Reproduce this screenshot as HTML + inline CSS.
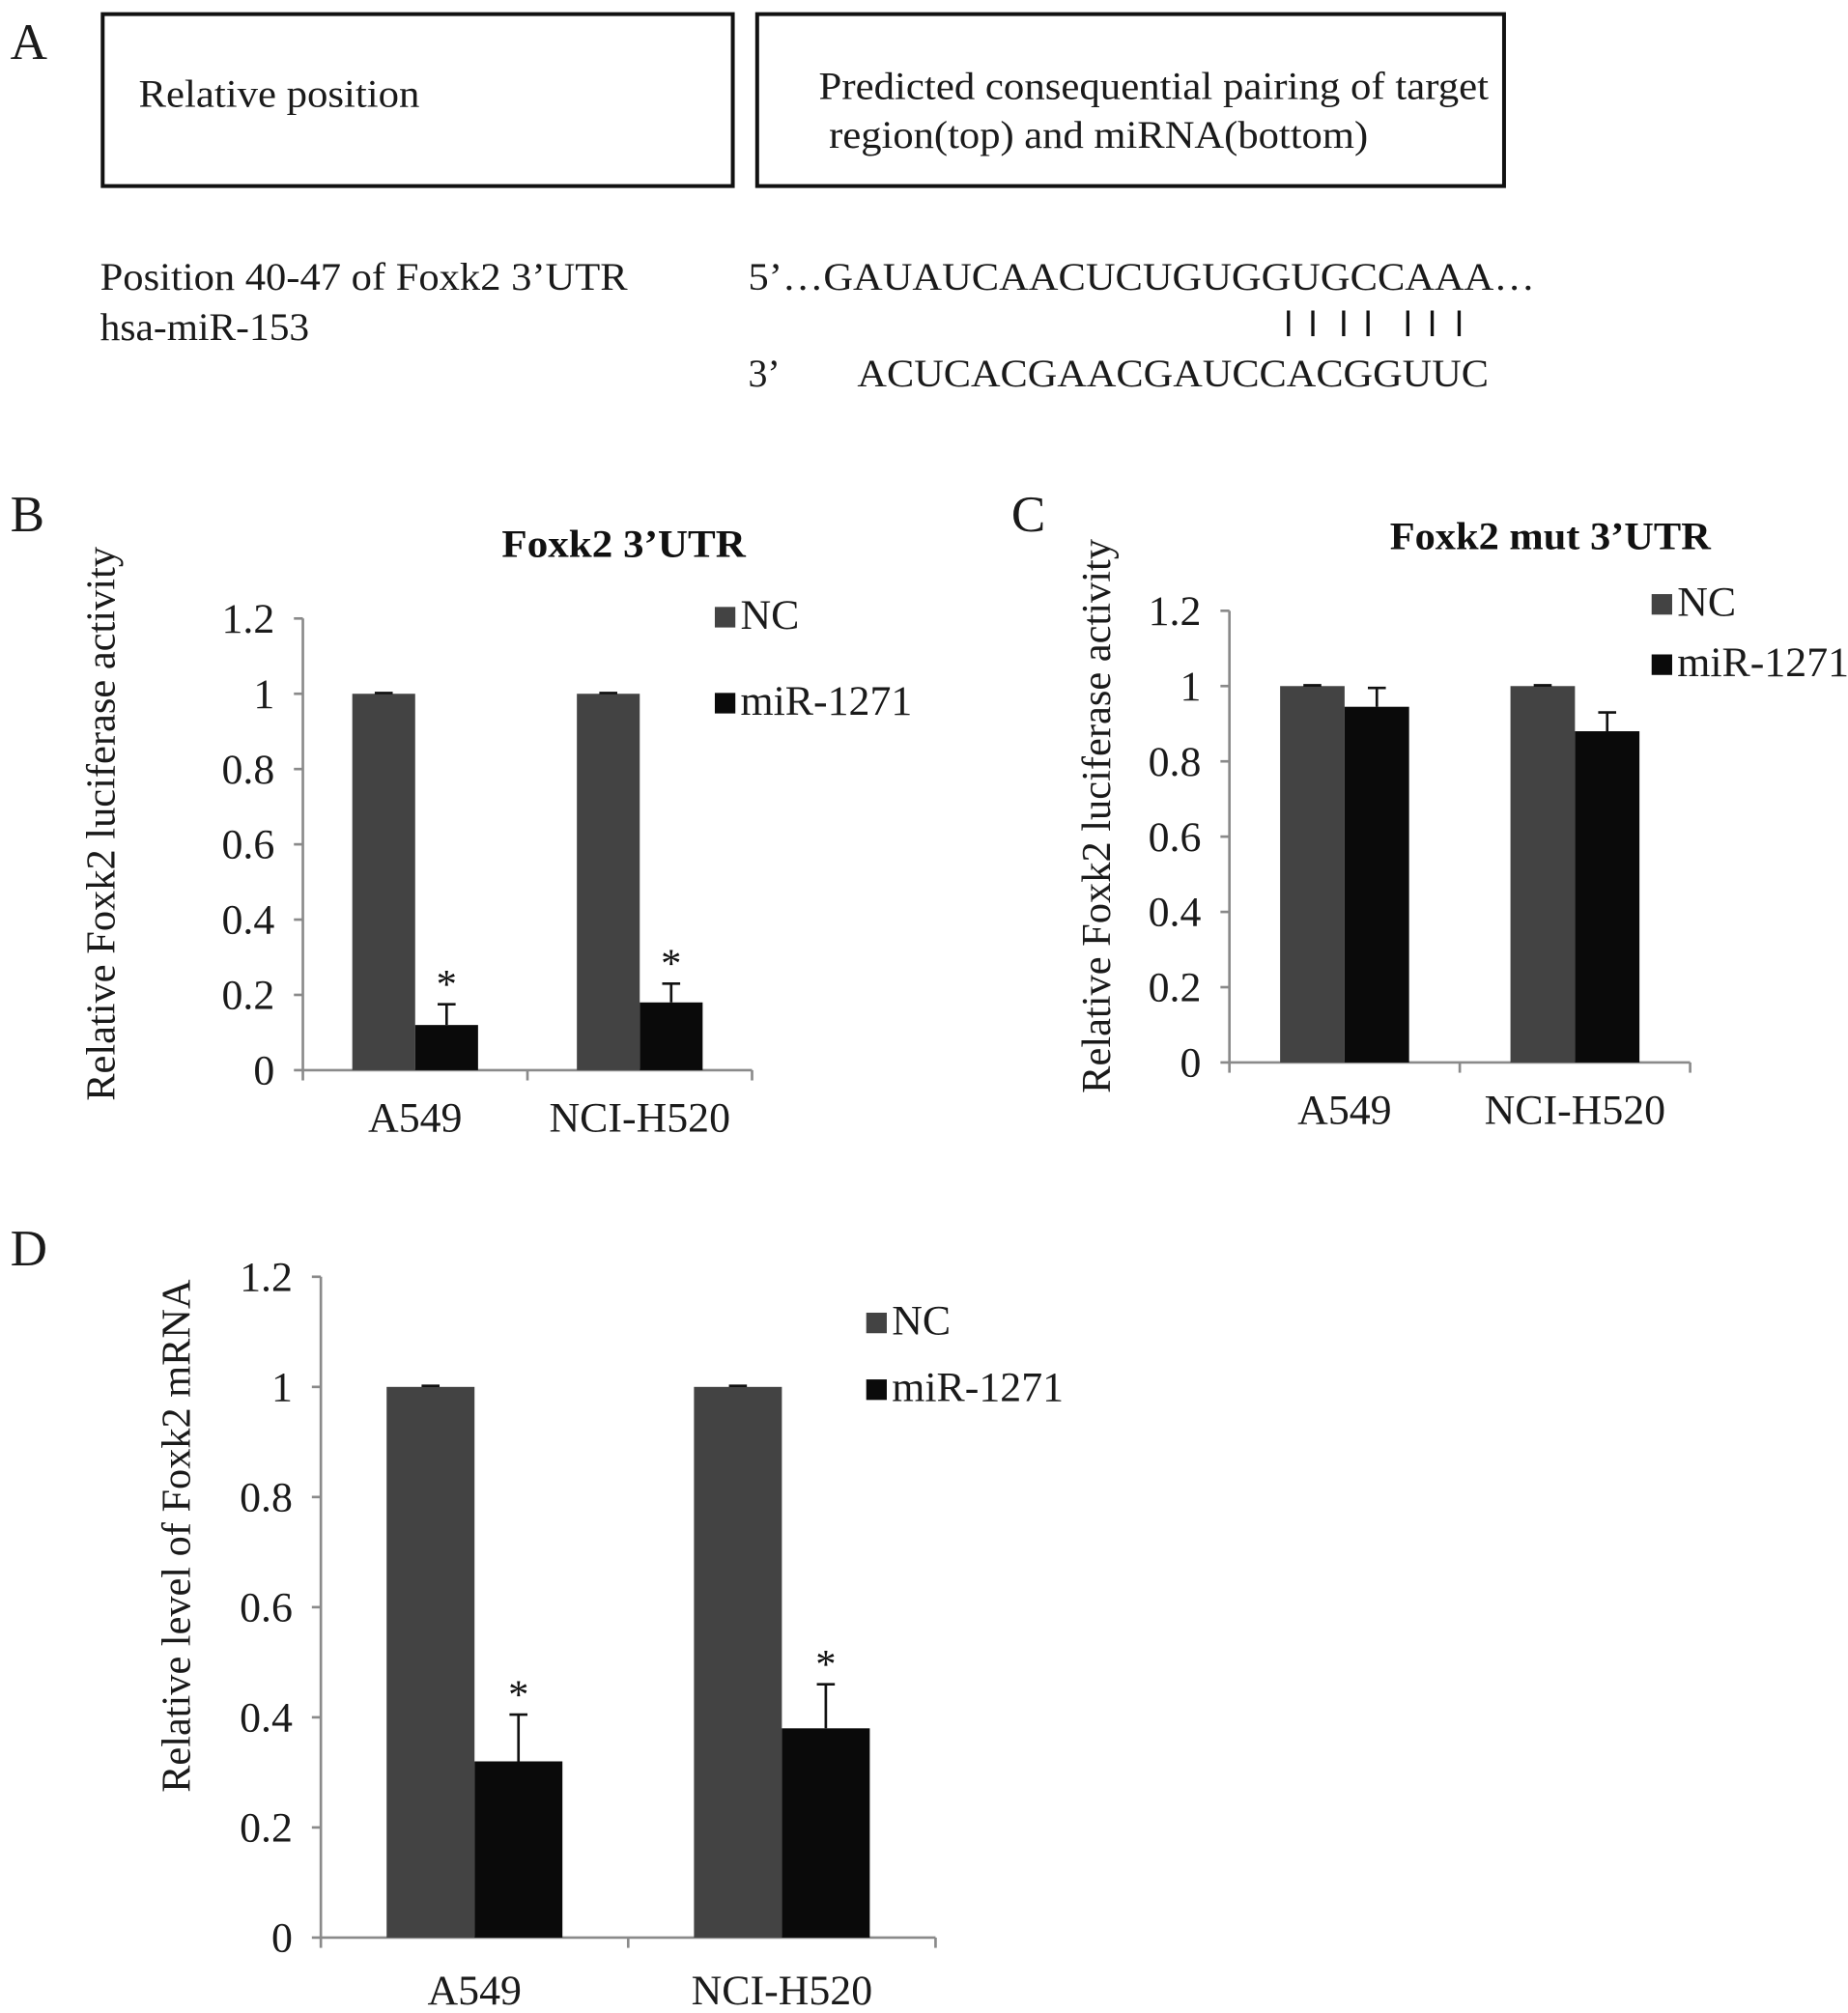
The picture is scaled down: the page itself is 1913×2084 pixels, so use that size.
<!DOCTYPE html>
<html><head><meta charset="utf-8"><style>
html,body{margin:0;padding:0;background:#fff}
svg, svg text{font-family:"Liberation Serif","Times New Roman",serif}
</style></head><body>
<svg id="fig" width="1913" height="2079" viewBox="0 0 1440 1565" xmlns="http://www.w3.org/2000/svg">
<g fill="#1a1a1a">
<text x="8" y="46" font-size="40">A</text>
<rect x="80" y="11" width="491" height="134" fill="none" stroke="#111" stroke-width="3"/>
<rect x="590" y="11" width="582" height="134" fill="none" stroke="#111" stroke-width="3"/>
<text x="108" y="83" font-size="30" textLength="219" lengthAdjust="spacingAndGlyphs">Relative position</text>
<text x="638" y="77" font-size="30" textLength="522" lengthAdjust="spacingAndGlyphs">Predicted consequential pairing of target</text>
<text x="646" y="115" font-size="30" textLength="420" lengthAdjust="spacingAndGlyphs">region(top) and miRNA(bottom)</text>
<text x="78" y="226" font-size="30" textLength="411" lengthAdjust="spacingAndGlyphs">Position 40-47 of Foxk2 3’UTR</text>
<text x="78" y="265" font-size="30" textLength="163" lengthAdjust="spacingAndGlyphs">hsa-miR-153</text>
<text x="583" y="226" font-size="30" textLength="613" lengthAdjust="spacingAndGlyphs">5’…GAUAUCAACUCUGUGGUGCCAAA…</text>
<g stroke="#111" stroke-width="2.5">
<line x1="1004" y1="242" x2="1004" y2="262"/><line x1="1023" y1="242" x2="1023" y2="262"/>
<line x1="1047" y1="242" x2="1047" y2="262"/><line x1="1066" y1="242" x2="1066" y2="262"/>
<line x1="1097" y1="242" x2="1097" y2="262"/><line x1="1116" y1="242" x2="1116" y2="262"/>
<line x1="1137" y1="242" x2="1137" y2="262"/></g>
<text x="583" y="301" font-size="30">3’</text>
<text x="668" y="301" font-size="30" textLength="492" lengthAdjust="spacingAndGlyphs">ACUCACGAACGAUCCACGGUUC</text>
</g>
<g id="charts"></g>
</svg>
<script>
const categories = ["A549", "NCI-H520"];
const seriesNames = ["NC", "miR-1271"];
const tickLabels = ["0", "0.2", "0.4", "0.6", "0.8", "1", "1.2"];
const tickValues = [0, 0.2, 0.4, 0.6, 0.8, 1, 1.2];
const bNC = [1, 1];
const bMiR = [0.12, 0.18];
const bNCErr = [0.002, 0.002];
const bMiRErr = [0.055, 0.05];
const bSig = [true, true];
const cNC = [1, 1];
const cMiR = [0.945, 0.88];
const cNCErr = [0.002, 0.002];
const cMiRErr = [0.05, 0.05];
const cSig = [false, false];
const dNC = [1, 1];
const dMiR = [0.32, 0.38];
const dNCErr = [0.002, 0.002];
const dMiRErr = [0.085, 0.08];
const dSig = [true, true];

const NS = "http://www.w3.org/2000/svg";
const root = document.getElementById("charts");
const colors = ["#434343", "#0a0a0a"];
function mk(tag, attrs, parent, txt) {
  const e = document.createElementNS(NS, tag);
  for (const k in attrs) e.setAttribute(k, attrs[k]);
  if (txt !== undefined) e.textContent = txt;
  parent.appendChild(e);
  return e;
}
function chart(cfg, nc, mir, ncErr, mirErr, sig) {
  const g = mk("g", {}, root);
  
  
  const y = v => cfg.y0 - (v / 1.2) * (cfg.y0 - cfg.y12);
  const groupW = (cfg.x1 - cfg.x0) / categories.length;
  const lab = mk("text", {x: cfg.labelX, y: cfg.labelY, "font-size": 40, fill: "#1a1a1a"}, g, cfg.letter);
  
  
  if (cfg.title) {
    const t = mk("text", {x: cfg.titleX, y: cfg.titleY, "font-size": 30, "font-weight": "bold", "text-anchor": "middle", fill: "#111", textLength: cfg.titleW, lengthAdjust: "spacingAndGlyphs"}, g, cfg.title);
    
    
  }
  const yt = mk("text", {x: 0, y: 0, "font-size": 32, "text-anchor": "middle", fill: "#1a1a1a", textLength: cfg.ytW, lengthAdjust: "spacingAndGlyphs", transform: `translate(${cfg.ytX},${cfg.ytY}) rotate(-90)`}, g, cfg.yTitle);
  
  
  const ax = mk("path", {d: `M${cfg.x0},${y(1.2)}V${y(0)}H${cfg.x1}`, stroke: "#8a8a8a", "stroke-width": 2, fill: "none"}, g);
  
  
  tickValues.forEach((v, i) => {
    const tk = mk("line", {x1: cfg.x0 - 7, x2: cfg.x0, y1: y(v), y2: y(v), stroke: "#8a8a8a", "stroke-width": 2}, g);
    
    
    const tl = mk("text", {x: cfg.x0 - 22, y: y(v) + 11, "font-size": 33, "text-anchor": "end", fill: "#1a1a1a"}, g, tickLabels[i]);
    
    
  });
  for (let i = 0; i <= categories.length; i++) {
    const xx = cfg.x0 + i * groupW;
    const tk = mk("line", {x1: xx, x2: xx, y1: y(0), y2: y(0) + 8, stroke: "#8a8a8a", "stroke-width": 2}, g);
    
    
  }
  categories.forEach((c, i) => {
    const cx = cfg.x0 + (i + 0.5) * groupW;
    const bw = groupW * cfg.barFrac;
    [[nc, ncErr], [mir, mirErr]].forEach((s, j) => {
      const bx = cx - bw + j * bw;
      const r = mk("rect", {x: bx, y: y(s[0][i]), width: bw, height: y(0) - y(s[0][i]), fill: colors[j]}, g);
      
      
      const ex = bx + bw / 2, top = y(s[0][i] + s[1][i]);
      const e = mk("path", {d: `M${ex},${y(s[0][i])}V${top}M${ex - 7},${top}H${ex + 7}`, stroke: "#111", "stroke-width": 2, fill: "none"}, g);
      
      
      if (j === 1 && sig[i]) {
        const st = mk("text", {x: ex, y: top - 5, "font-size": 32, "text-anchor": "middle", fill: "#111"}, g, "*");
        
        
      }
    });
    const cl = mk("text", {x: cx, y: cfg.catY, "font-size": 33, "text-anchor": "middle", fill: "#1a1a1a"}, g, c);
    
    
  });
  seriesNames.forEach((n, j) => {
    const ly = cfg.legY[j];
    const sq = mk("rect", {x: cfg.legX, y: ly - 17, width: 16, height: 16, fill: colors[j]}, g);
    
    
    const lt = mk("text", {x: cfg.legX + 20, y: ly, "font-size": 33, fill: "#1a1a1a"}, g, n);
    
    
  });
}
chart({id: "chart-b", letter: "B", labelX: 8, labelY: 414, title: "Foxk2 3’UTR", titleX: 486, titleY: 434, titleW: 190,
  yTitle: "Relative Foxk2 luciferase activity", ytX: 89, ytY: 642, ytW: 432,
  x0: 236, x1: 586, y0: 834, y12: 482, barFrac: 0.28, catY: 882, legX: 557, legY: [490, 557]},
  bNC, bMiR, bNCErr, bMiRErr, bSig);
chart({id: "chart-c", letter: "C", labelX: 788, labelY: 414, title: "Foxk2 mut 3’UTR", titleX: 1208, titleY: 428, titleW: 250,
  yTitle: "Relative Foxk2 luciferase activity", ytX: 865, ytY: 636, ytW: 432,
  x0: 958, x1: 1317, y0: 828, y12: 476, barFrac: 0.28, catY: 876, legX: 1287, legY: [480, 527]},
  cNC, cMiR, cNCErr, cMiRErr, cSig);
chart({id: "chart-d", letter: "D", labelX: 8, labelY: 986, title: "", 
  yTitle: "Relative level of Foxk2 mRNA", ytX: 148, ytY: 1197, ytW: 400,
  x0: 250, x1: 729, y0: 1510, y12: 995, barFrac: 0.286, catY: 1562, legX: 675, legY: [1040, 1092]},
  dNC, dMiR, dNCErr, dMiRErr, dSig);
</script>
</body></html>
